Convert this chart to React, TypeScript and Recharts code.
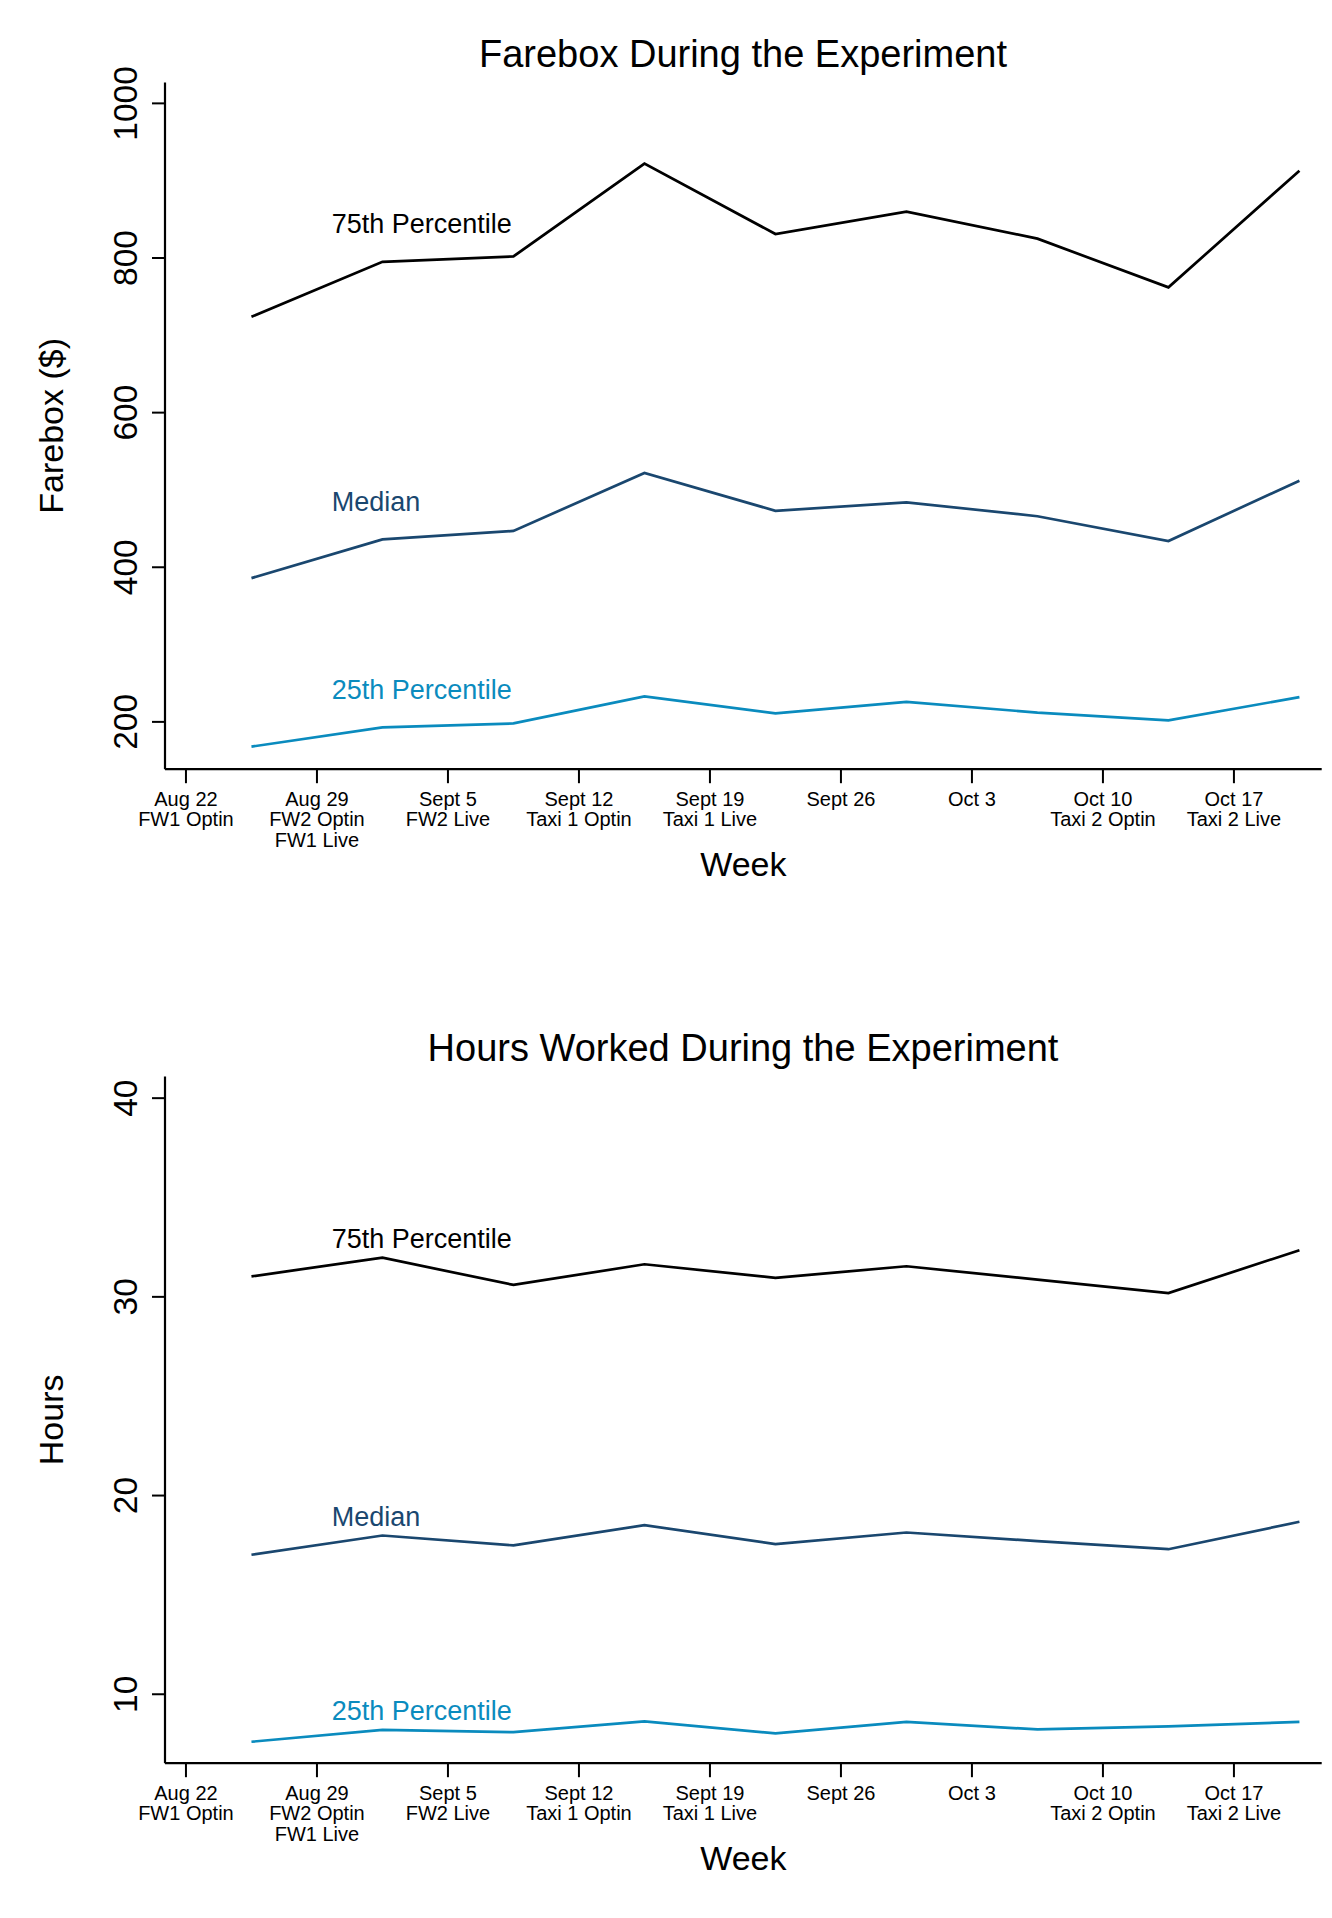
import React from "react";
import { LineChart, Line, XAxis, YAxis, ReferenceDot } from "recharts";

// Week positions (0 = Aug 22 tick); series are plotted at mid-week
const weekTicks = [0, 1, 2, 3, 4, 5, 6, 7, 8];
const pointWeeks = [0.5, 1.5, 2.5, 3.5, 4.5, 5.5, 6.5, 7.5, 8.5];
const tickLabels: string[][] = [
  ["Aug 22", "FW1 Optin"],
  ["Aug 29", "FW2 Optin", "FW1 Live"],
  ["Sept 5", "FW2 Live"],
  ["Sept 12", "Taxi 1 Optin"],
  ["Sept 19", "Taxi 1 Live"],
  ["Sept 26"],
  ["Oct 3"],
  ["Oct 10", "Taxi 2 Optin"],
  ["Oct 17", "Taxi 2 Live"],
];

// Farebox ($)
const fare75 = [724, 795, 802, 922, 831, 860, 825, 762, 913];
const fareMed = [386, 436, 447, 522, 473, 484, 466, 434, 512];
const fare25 = [168, 193, 198, 233, 211, 226, 212, 202, 232];
const fareTicks = [200, 400, 600, 800, 1000];

// Hours worked
const hours75 = [31.03, 31.97, 30.6, 31.64, 30.96, 31.54, 30.87, 30.19, 32.35];
const hoursMed = [17.02, 17.99, 17.49, 18.51, 17.56, 18.14, 17.71, 17.3, 18.68];
const hours25 = [7.61, 8.21, 8.09, 8.63, 8.03, 8.61, 8.23, 8.38, 8.61];
const hoursTicks = [10, 20, 30, 40];

const seriesNames = ["75th Percentile", "Median", "25th Percentile"];
const fareLabelY = [832, 473, 230];
const hoursLabelY = [32.44, 18.46, 8.68];
const labelWeek = 1.113;

const COLORS = ["#000000", "#1a476f", "#0a8bbe"];
const FONT = "'Liberation Sans', Arial, Helvetica, sans-serif";

const XTick = (props: any) => {
  const { x, y, payload } = props;
  const lines = tickLabels[payload.value] || [];
  return (
    <g>
      {lines.map((t, i) => (
        <text
          key={i}
          x={x}
          y={y + 22.5 + i * 20.5}
          textAnchor="middle"
          fontFamily={FONT}
          fontSize={20}
          fill="#000"
        >
          {t}
        </text>
      ))}
    </g>
  );
};

const YTick = (props: any) => {
  const { y, payload } = props;
  return (
    <text
      transform={`translate(137, ${y}) rotate(-90)`}
      textAnchor="middle"
      fontFamily={FONT}
      fontSize={33.5}
      fill="#000"
    >
      {payload.value}
    </text>
  );
};

function Panel(props: {
  title: string;
  yLabel: string;
  height: number;
  domain: [number, number];
  yTicks: number[];
  s75: number[];
  sMed: number[];
  s25: number[];
  labelY: number[];
}) {
  const { title, yLabel, height, domain, yTicks, s75, sMed, s25, labelY } = props;
  const rows = pointWeeks.map((w, i) => ({ week: w, p75: s75[i], med: sMed[i], p25: s25[i] }));
  const top = 82.5;
  const plotH = 686.7;
  const xAxisH = height - top - plotH;
  return (
    <div style={{ position: "relative", width: 1332, height }}>
      <LineChart
        width={1332}
        height={height}
        data={rows}
        margin={{ top, right: 10.3, bottom: 0, left: 0 }}
      >
        <XAxis
          dataKey="week"
          type="number"
          domain={[-0.16, 8.67]}
          ticks={weekTicks}
          allowDataOverflow
          interval={0}
          height={xAxisH}
          tickSize={14}
          tickMargin={0}
          tick={<XTick />}
          tickLine={{ stroke: "#000", strokeWidth: 2 }}
          axisLine={{ stroke: "#000", strokeWidth: 2.2 }}
          label={(lp: any) => {
            const vb = lp.viewBox || {};
            return (
              <text
                x={(vb.x ?? 165) + (vb.width ?? 1156.7) / 2}
                y={(vb.y ?? 769) + 107}
                textAnchor="middle"
                fontFamily={FONT}
                fontSize={34}
                fill="#000"
              >
                Week
              </text>
            );
          }}
        />
        <YAxis
          type="number"
          domain={domain}
          ticks={yTicks}
          allowDataOverflow
          interval={0}
          width={165}
          tickSize={13}
          tickMargin={0}
          tick={<YTick />}
          tickLine={{ stroke: "#000", strokeWidth: 2 }}
          axisLine={{ stroke: "#000", strokeWidth: 2.2 }}
          label={(lp: any) => {
            const vb = lp.viewBox || {};
            const cy = (vb.y ?? top) + (vb.height ?? plotH) / 2;
            return (
              <text
                transform={`translate(63, ${cy}) rotate(-90)`}
                textAnchor="middle"
                fontFamily={FONT}
                fontSize={34}
                fill="#000"
              >
                {yLabel}
              </text>
            );
          }}
        />
        <Line dataKey="p75" stroke={COLORS[0]} strokeWidth={2.7} dot={false} isAnimationActive={false} />
        <Line dataKey="med" stroke={COLORS[1]} strokeWidth={2.7} dot={false} isAnimationActive={false} />
        <Line dataKey="p25" stroke={COLORS[2]} strokeWidth={2.7} dot={false} isAnimationActive={false} />
        {seriesNames.map((name, i) => (
          <ReferenceDot
            key={name}
            x={labelWeek}
            y={labelY[i]}
            r={0}
            ifOverflow="visible"
            shape={(sp: any) => (
              <text
                x={sp.cx}
                y={sp.cy}
                fontFamily={FONT}
                fontSize={27}
                fill={COLORS[i]}
              >
                {name}
              </text>
            )}
          />
        ))}
      </LineChart>
      <svg
        width={1332}
        height={80}
        style={{ position: "absolute", left: 0, top: 0, pointerEvents: "none" }}
      >
        <text x={743} y={67} textAnchor="middle" fontFamily={FONT} fontSize={38} fill="#000">
          {title}
        </text>
      </svg>
    </div>
  );
}

export default function App() {
  return (
    <div
      style={{
        position: "absolute",
        left: 0,
        top: 0,
        width: 1332,
        height: 1918,
        background: "#fff",
      }}
    >
      <Panel
        title="Farebox During the Experiment"
        yLabel="Farebox ($)"
        height={994}
        domain={[138.8, 1027]}
        yTicks={fareTicks}
        s75={fare75}
        sMed={fareMed}
        s25={fare25}
        labelY={fareLabelY}
      />
      <Panel
        title="Hours Worked During the Experiment"
        yLabel="Hours"
        height={924}
        domain={[6.53, 41.09]}
        yTicks={hoursTicks}
        s75={hours75}
        sMed={hoursMed}
        s25={hours25}
        labelY={hoursLabelY}
      />
    </div>
  );
}
